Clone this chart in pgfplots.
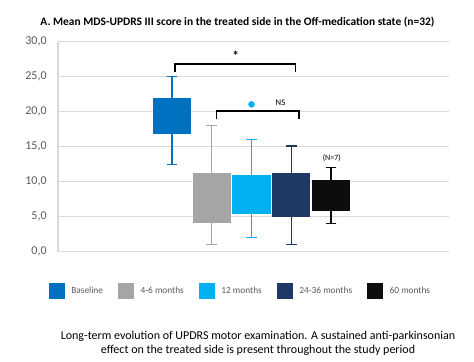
\documentclass[border=0pt]{standalone}
\usepackage{pgfplots}
\pgfplotsset{compat=1.18}
\usepgfplotslibrary{statistics}
\usepackage{fontspec}
\setmainfont{Carlito}
\definecolor{cBase}{HTML}{0070C0}
\definecolor{cGray}{HTML}{A5A5A5}
\definecolor{cLight}{HTML}{00B0F0}
\definecolor{cNavy}{HTML}{203864}
\definecolor{cBlack}{HTML}{0D0D0D}
\definecolor{cGrid}{HTML}{D9D9D9}
\definecolor{cTick}{HTML}{595959}
\begin{document}
\begin{tikzpicture}
\useasboundingbox (0,0) rectangle (355.5pt,270.75pt);
\node[font=\bfseries\fontsize{8.6}{10}\selectfont] at (178.1pt,254.5pt) {A. Mean MDS-UPDRS III score in the treated side in the Off-medication state (n=32)};
\begin{axis}[
  at={(43.5pt,81.98pt)}, anchor=south west,
  scale only axis, width=293.25pt, height=157.5pt,
  xmin=-2.87, xmax=6.97, ymin=0, ymax=30,
  xtick=\empty,
  ytick={0,5,10,15,20,25,30},
  ymajorgrids, grid style={cGrid, line width=0.8pt},
  axis x line=none,
  axis y line*=left,
  y axis line style={cGrid, line width=0.8pt, -},
  major tick length=0pt,
  yticklabel style={font=\fontsize{9}{10}\selectfont, text=cTick, xshift=-5pt},
  /pgf/number format/.cd, fixed, fixed zerofill, precision=1, use comma, assume math mode=true,
  /pgfplots/.cd,
  clip=false,
  legend image code/.code={\draw[#1] (0pt,-5.6pt) rectangle (11.25pt,5.6pt);},
  legend style={draw=none, fill=none, font=\fontsize{7}{8}\selectfont, text=cTick,
     at={(0.468,-0.187)}, anchor=center, legend columns=5,
     /tikz/every odd column/.append style={column sep=3pt},
     /tikz/every even column/.append style={column sep=9.5pt},
     inner sep=0pt, cells={anchor=west}},
  boxplot/draw direction=y,
  boxplot/box extend=0.93,
  boxplot/whisker extend=0.27,
]
\addplot[forget plot, draw=cBase, fill=cBase, line width=1pt, boxplot prepared={draw position=0,
  lower whisker=12.5, lower quartile=16.9, median=16.9, upper quartile=21.9, upper whisker=25.0}] coordinates {};
\addplot[forget plot, draw=cGray, fill=cGray, line width=1pt, boxplot prepared={draw position=1,
  lower whisker=1.05, lower quartile=4.25, median=4.25, upper quartile=11.1, upper whisker=18.05}] coordinates {};
\addplot[forget plot, draw=cLight, fill=cLight, line width=1pt, boxplot prepared={draw position=2,
  lower whisker=2.0, lower quartile=5.55, median=5.55, upper quartile=10.85, upper whisker=16.0}] coordinates {};
\addplot[forget plot, draw=cNavy, fill=cNavy, line width=1pt, boxplot prepared={draw position=3,
  lower whisker=1.0, lower quartile=5.1, median=5.1, upper quartile=11.15, upper whisker=15.1}] coordinates {};
\addplot[forget plot, draw=cBlack, fill=cBlack, line width=1pt, boxplot prepared={draw position=4,
  lower whisker=4.05, lower quartile=5.95, median=5.95, upper quartile=10.1, upper whisker=12.0}] coordinates {};
\addplot[forget plot, only marks, mark=*, mark size=2.2pt, color=cLight] coordinates {(2,21.05)};
\addlegendimage{fill=cBase, draw=cBase}
\addlegendentry{Baseline}
\addlegendimage{fill=cGray, draw=cGray}
\addlegendentry{4-6 months}
\addlegendimage{fill=cLight, draw=cLight}
\addlegendentry{12 months}
\addlegendimage{fill=cNavy, draw=cNavy}
\addlegendentry{24-36 months}
\addlegendimage{fill=cBlack, draw=cBlack}
\addlegendentry{60 months}
\draw[black, line width=1.1pt] (axis cs:0.075,25.7) -- (axis cs:0.075,26.8) -- (axis cs:3.11,26.8) -- (axis cs:3.11,25.7);
\draw[black, line width=1.1pt] (axis cs:1.12,18.9) -- (axis cs:1.12,20.1) -- (axis cs:3.19,20.1) -- (axis cs:3.19,18.9);
\node[font=\bfseries\fontsize{10}{10}\selectfont] at (axis cs:1.6,28.0) {*};
\node[font=\fontsize{6.5}{7}\selectfont] at (axis cs:2.73,21.3) {NS};
\node[font=\fontsize{6}{7}\selectfont] at (axis cs:4.02,13.3) {(N=7)};
\end{axis}
\node[align=center, font=\fontsize{9}{10.3}\selectfont] at (193.5pt,13.2pt) {Long-term evolution of UPDRS motor examination. A sustained anti-parkinsonian\\effect on the treated side is present throughout the study period};
\end{tikzpicture}
\end{document}
